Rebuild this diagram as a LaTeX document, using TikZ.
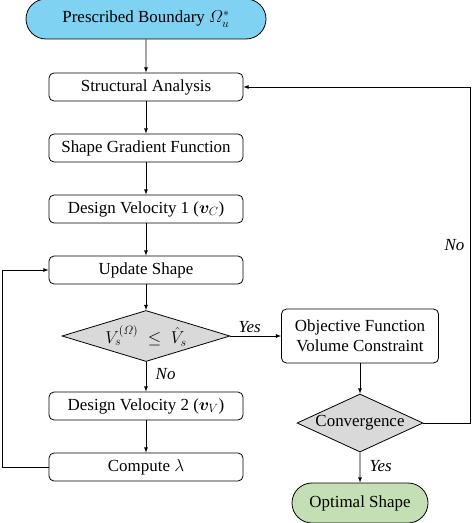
\documentclass[tikz,border=0pt]{standalone}
\usepackage{amsmath}
\usepackage{amssymb}
\usepackage{bm}
\usepackage{fontspec}
\setmainfont{Liberation Serif}
\usetikzlibrary{arrows}
\usetikzlibrary{arrows.meta}
\usetikzlibrary{shapes.geometric}
\usetikzlibrary{shapes.misc}
\tikzset{>=latex}
\definecolor{startblue}{HTML}{7FD2F1}
\definecolor{endgreen}{HTML}{C5DFB4}
\definecolor{checkgray}{HTML}{D9D9D9}
\tikzstyle{proc} = [rectangle, draw, rounded corners=5bp, minimum width=194bp, minimum height=28bp, inner sep=0, font=\fontsize{17}{20}\selectfont]
\tikzstyle{term} = [rounded rectangle, draw, inner sep=0, minimum height=40bp, font=\fontsize{17}{20}\selectfont]
\tikzstyle{check} = [diamond, draw, fill=checkgray, inner sep=0, font=\fontsize{17}{20}\selectfont]
\tikzstyle{lab} = [draw=none, font=\fontsize{17}{20}\selectfont\itshape]

\begin{document}
\begin{tikzpicture}[x=1bp, y=-1bp, line width=0.8pt]
\useasboundingbox (0,0) rectangle (474,523);
% main column
\node [term, fill=startblue, minimum width=240bp] (start) at (146, 19) {Prescribed Boundary $\varOmega_u^*$};
\node [proc] (SA) at (146, 87) {Structural Analysis};
\node [proc] (SG) at (146, 148) {Shape Gradient Function};
\node [proc] (DV1) at (146, 209) {Design Velocity 1 ($\bm{v}_C$)};
\node [proc] (US) at (146, 270) {Update Shape};
\node [check, aspect=3.3, minimum width=168bp, minimum height=51bp] (VC) at (146, 336) {$V_s^{(\varOmega)}\;\leq\;\hat{V}_s$};
\node [proc] (DV2) at (146, 406) {Design Velocity 2 ($\bm{v}_V$)};
\node [proc] (CL) at (146, 467) {Compute $\lambda$};
% right column
\node [proc, minimum width=157bp, minimum height=54bp, align=center] (OF) at (360, 336) {Objective Function\\Volume Constraint};
\node [check, aspect=2.17, minimum width=126bp, minimum height=58bp] (CV) at (360, 423) {Convergence};
\node [term, fill=endgreen, minimum width=136bp] (opt) at (360, 503) {Optimal Shape};
% loop corners
\coordinate (Lb) at (2, 467);
\coordinate (Lt) at (2, 270);
\coordinate (Rb) at (470, 423);
\coordinate (Rt) at (470, 87);

\draw [-latex] (start) to (SA);
\draw [-latex] (SA) to (SG);
\draw [-latex] (SG) to (DV1);
\draw [-latex] (DV1) to (US);
\draw [-latex] (US) to (VC);
\draw [-latex] (VC) to node[lab, right, pos=0.4, xshift=6bp] {No} (DV2);
\draw [-latex] (DV2) to (CL);
\draw [-latex] (VC) to node[lab, above, pos=0.38] {Yes} (OF);
\draw [-latex] (OF) to (CV);
\draw [-latex] (CV) to node[lab, right, pos=0.45, xshift=6bp] {Yes} (opt);
\draw [-latex] (CL.west) -- (Lb) -- (Lt) -- (US.west);
\draw [-latex] (CV.east) -- (Rb) -- node[lab, left, pos=0.53, xshift=-2bp] {No} (Rt) -- (SA.east);
\end{tikzpicture}
\end{document}
